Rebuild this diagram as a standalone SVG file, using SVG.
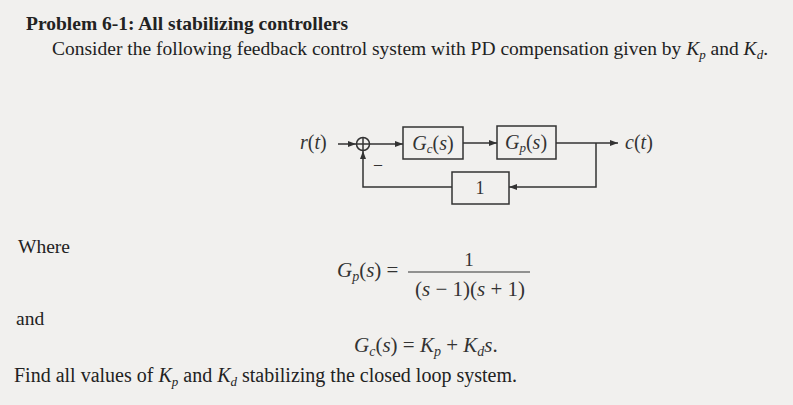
<svg xmlns="http://www.w3.org/2000/svg" width="793" height="405" viewBox="0 0 793 405">
<defs>
<style>
.t{font-family:"Liberation Serif",serif;fill:#222}
.m{font-family:"Liberation Serif",serif;font-style:italic;fill:#333}
.r{font-family:"Liberation Serif",serif;fill:#333}
.ln{stroke:#333;stroke-width:1.5;fill:none}
.bx{stroke:#333;stroke-width:1.5;fill:none}
</style>
<marker id="a" markerWidth="8" markerHeight="6" refX="8" refY="3" orient="auto" markerUnits="userSpaceOnUse"><path d="M0,0 L8,3 L0,6 Z" fill="#333"/></marker>
</defs>
<rect width="793" height="405" fill="#f1f0ee"/>
<text x="26" y="30" class="t" font-size="19.5" font-weight="bold">Problem 6-1: All stabilizing controllers</text>
<text x="52" y="55" class="t" font-size="19.5">Consider the following feedback control system with PD compensation given by <tspan font-style="italic">K<tspan font-size="13" dy="4">p</tspan></tspan><tspan dy="-4"> and </tspan><tspan font-style="italic">K<tspan font-size="13" dy="4">d</tspan></tspan><tspan dy="-4">.</tspan></text>
<g id="sum"><circle cx="363" cy="144" r="6.5" class="bx"/><path d="M357,144 H369 M363,138 V150" class="ln"/><text x="374" y="169" class="r" font-size="16">–</text></g>
<g id="gc"><rect x="403" y="127" width="60" height="32" class="bx"/><text x="433" y="150" class="m" font-size="20" text-anchor="middle">G<tspan font-size="13" dy="3">c</tspan><tspan dy="-3" font-style="normal">(</tspan>s<tspan font-style="normal">)</tspan></text></g>
<g id="gp"><rect x="497" y="126" width="59" height="33" class="bx"/><text x="526" y="149" class="m" font-size="20" text-anchor="middle">G<tspan font-size="13" dy="3">p</tspan><tspan dy="-3" font-style="normal">(</tspan>s<tspan font-style="normal">)</tspan></text></g>
<g id="h"><rect x="452" y="172" width="57" height="32" class="bx"/><text x="480" y="194" class="r" font-size="18" text-anchor="middle">1</text></g>
<g id="io"><text x="300" y="149" class="m" font-size="20">r<tspan font-style="normal">(</tspan>t<tspan font-style="normal">)</tspan></text><text x="625" y="149" class="m" font-size="20">c<tspan font-style="normal">(</tspan>t<tspan font-style="normal">)</tspan></text></g>
<g id="connectors">
<path d="M338,144 H356" class="ln" marker-end="url(#a)"/>
<path d="M370,144 H403" class="ln" marker-end="url(#a)"/>
<path d="M463,143 H497" class="ln" marker-end="url(#a)"/>
<path d="M556,143 H618" class="ln" marker-end="url(#a)"/>
<path d="M596,143 V187 H509" class="ln" marker-end="url(#a)"/>
<path d="M452,187 H363 V151" class="ln" marker-end="url(#a)"/>
</g>
<text x="18" y="253" class="t" font-size="19.5">Where</text>
<text x="337" y="277" class="m" font-size="21">G<tspan font-size="14" dy="4">p</tspan><tspan dy="-4" font-style="normal">(</tspan>s<tspan font-style="normal">) =</tspan></text>
<text x="469" y="266" class="r" font-size="19" text-anchor="middle">1</text>
<line x1="408" y1="272" x2="530" y2="272" stroke="#333" stroke-width="1.2"/>
<text x="470" y="296" class="m" font-size="21" text-anchor="middle"><tspan font-style="normal">(</tspan>s <tspan font-style="normal">− 1)(</tspan>s <tspan font-style="normal">+ 1)</tspan></text>
<text x="16" y="325" class="t" font-size="19.5">and</text>
<text x="354" y="352" class="m" font-size="21">G<tspan font-size="14" dy="4">c</tspan><tspan dy="-4" font-style="normal">(</tspan>s<tspan font-style="normal">) = </tspan>K<tspan font-size="14" dy="4">p</tspan><tspan dy="-4" font-style="normal"> + </tspan>K<tspan font-size="14" dy="4">d</tspan><tspan dy="-4">s</tspan><tspan font-style="normal">.</tspan></text>
<text x="14" y="382" class="t" font-size="20">Find all values of <tspan font-style="italic">K<tspan font-size="13" dy="4">p</tspan></tspan><tspan dy="-4"> and </tspan><tspan font-style="italic">K<tspan font-size="13" dy="4">d</tspan></tspan><tspan dy="-4"> stabilizing the closed loop system.</tspan></text>
</svg>
